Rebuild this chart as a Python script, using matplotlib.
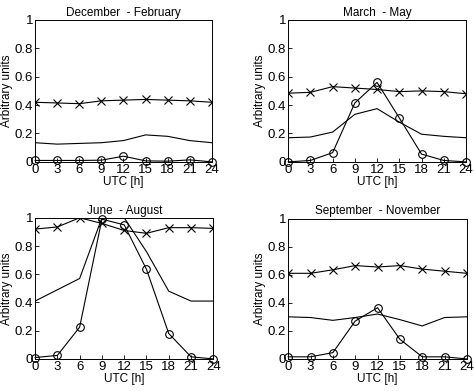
import matplotlib
matplotlib.use("Agg")
import matplotlib.pyplot as plt

plt.rcParams['font.family'] = ['Liberation Sans', 'DejaVu Sans']

# UTC hours
hours = [0, 3, 6, 9, 12, 15, 18, 21, 24]

# December - February
djf_x = [0.42, 0.415, 0.41, 0.43, 0.435, 0.44, 0.435, 0.43, 0.42]
djf_line = [0.135, 0.125, 0.13, 0.135, 0.15, 0.19, 0.18, 0.15, 0.135]
djf_o = [0.01, 0.01, 0.01, 0.012, 0.04, 0.007, 0.005, 0.014, 0.0]

# March - May
mam_x = [0.484, 0.49, 0.53, 0.52, 0.51, 0.495, 0.50, 0.495, 0.48]
mam_line = [0.17, 0.175, 0.21, 0.335, 0.375, 0.28, 0.195, 0.18, 0.17]
mam_o = [0.0, 0.01, 0.065, 0.415, 0.56, 0.31, 0.055, 0.01, 0.0]

# June - August
jja_x = [0.92, 0.935, 1.0, 0.96, 0.91, 0.89, 0.93, 0.93, 0.925]
jja_line = [0.41, 0.49, 0.57, 1.0, 1.0, 0.76, 0.48, 0.41, 0.41]
jja_o = [0.01, 0.025, 0.225, 0.99, 0.95, 0.635, 0.18, 0.015, 0.0]

# September - November
son_x = [0.61, 0.61, 0.635, 0.665, 0.655, 0.665, 0.64, 0.625, 0.61]
son_line = [0.30, 0.295, 0.275, 0.295, 0.32, 0.28, 0.235, 0.295, 0.30]
son_o = [0.015, 0.015, 0.045, 0.27, 0.365, 0.14, 0.015, 0.015, 0.0]

titles = ["December  - February", "March  - May", "June  - August", "September  - November"]
series = [(djf_x, djf_line, djf_o), (mam_x, mam_line, mam_o),
          (jja_x, jja_line, jja_o), (son_x, son_line, son_o)]

# axes rectangles (figure fractions)
positions = [
    [0.074, 0.586, 0.373, 0.363],
    [0.608, 0.586, 0.375, 0.363],
    [0.074, 0.082, 0.376, 0.361],
    [0.608, 0.082, 0.377, 0.359],
]

fig = plt.figure(figsize=(4.74, 3.91), dpi=100)

for pos, title, (sx, sl, so) in zip(positions, titles, series):
    ax = fig.add_axes(pos)
    ax.plot(hours, sx, color='black', lw=0.8, marker='x', ms=5.5, mew=0.8)
    ax.plot(hours, sl, color='black', lw=0.8)
    ax.plot(hours, so, color='black', lw=0.8, marker='o', ms=5.5, mew=0.8,
            mfc='none', clip_on=False)
    ax.set_xlim(0, 24)
    ax.set_ylim(0, 1)
    ax.set_xticks(hours)
    ax.set_yticks([0, 0.2, 0.4, 0.6, 0.8, 1])
    ax.set_yticklabels(["0", "0.2", "0.4", "0.6", "0.8", "1"])
    ax.tick_params(direction='in', length=3, width=0.6, labelsize=9.5, pad=1.5)
    for s in ax.spines.values():
        s.set_linewidth(0.7)
    ax.set_title(title, fontsize=8.5, pad=3)
    ax.set_xlabel("UTC [h]", fontsize=8.5, labelpad=0)
    ax.set_ylabel("Arbitrary units", fontsize=8.5, labelpad=1)

fig.savefig("out.png", dpi=100)
